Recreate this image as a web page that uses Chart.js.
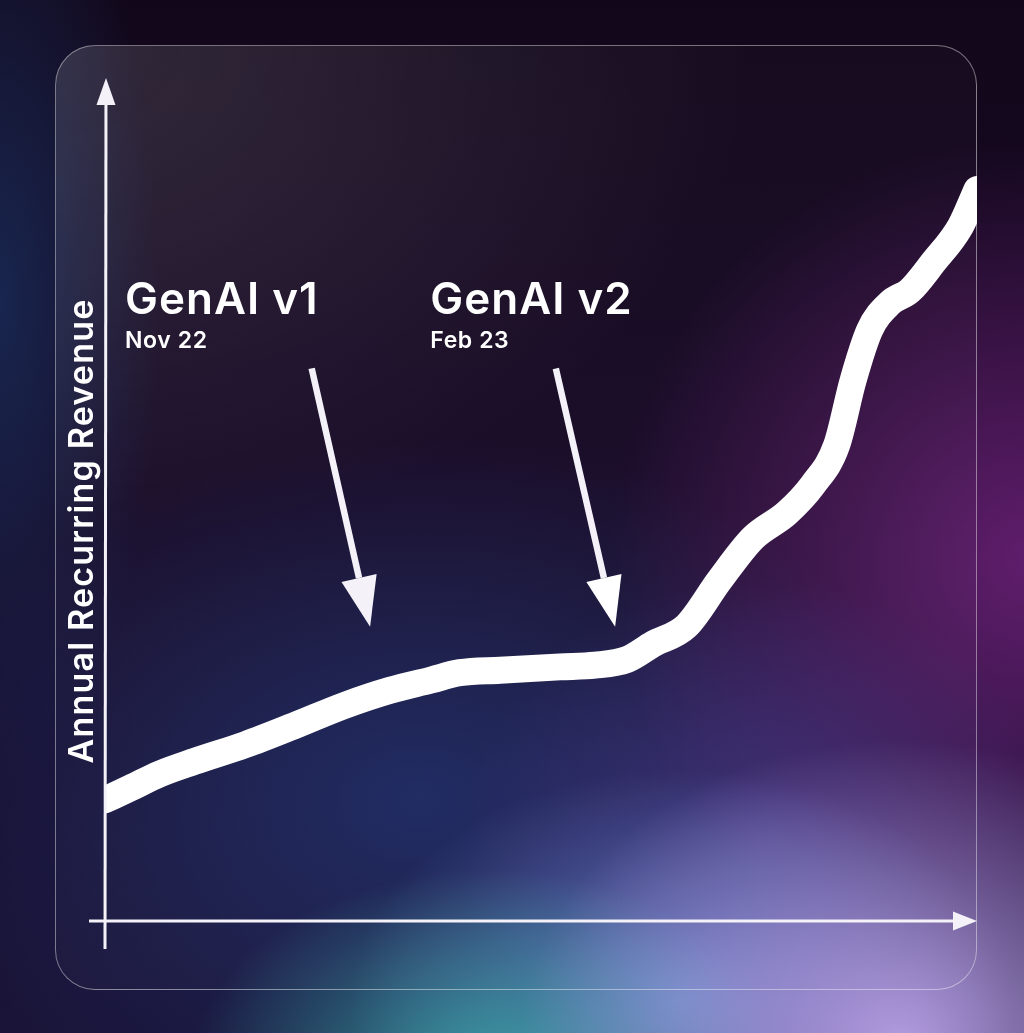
<!DOCTYPE html>
<html>
<head>
<meta charset="utf-8">
<script src="https://cdn.jsdelivr.net/npm/chart.js@4.4.0/dist/chart.umd.min.js"></script>
<style>
  html, body { margin: 0; padding: 0; }
  body {
    width: 1024px; height: 1033px; position: relative; overflow: hidden;
    background:
      radial-gradient(ellipse 380px 300px at 900px 1040px, rgba(185,160,230,0.95), rgba(185,160,230,0) 100%),
      radial-gradient(ellipse 300px 200px at 490px 1070px, rgba(60,170,170,0.85), rgba(60,170,170,0) 100%),
      radial-gradient(ellipse 330px 230px at 680px 1000px, rgba(105,135,210,0.85), rgba(105,135,210,0) 100%),
      radial-gradient(ellipse 300px 260px at 760px 840px, rgba(80,60,150,0.6), rgba(80,60,150,0) 100%),
      radial-gradient(ellipse 420px 420px at 1030px 560px, rgba(120,35,130,0.75), rgba(120,35,130,0) 100%),
      radial-gradient(ellipse 520px 360px at 420px 800px, rgba(30,45,105,0.85), rgba(30,45,105,0) 100%),
      radial-gradient(ellipse 160px 500px at 0px 300px, rgba(25,45,90,0.8), rgba(25,45,90,0) 100%),
      linear-gradient(180deg, #12071a 0%, #170a26 45%, #1a1438 100%);
  }
  #card {
    position: absolute; left: 55px; top: 45px; width: 920px; height: 943px;
    border: 1.5px solid rgba(255,255,255,0.42); border-radius: 40px;
    background:
      radial-gradient(ellipse 700px 500px at 0px 0px, rgba(255,255,255,0.12), rgba(255,255,255,0) 100%),
      rgba(255,255,255,0.02);
  }
  canvas { position: absolute; left: 0; top: 0; }
</style>
</head>
<body>
<div id="card"></div>
<canvas id="arrChart" width="1024" height="1033"></canvas>
<script>
// time index (0 = start, 100 = today) and ARR index
const timeIdx = [0, 2.9, 6.3, 10.3, 16.1, 21.8, 27.5, 32.7, 37.3, 40.7, 45.3, 52.2, 56.2, 59.9,
  62.8, 66.7, 70.5, 74.3, 78.2, 81.2, 83.9, 85.8, 87.7, 90.0, 92.3, 95.0, 98.1, 100];
const arrValues = [14.5, 15.9, 17.6, 19.1, 21.1, 23.4, 25.8, 27.6, 28.8, 29.7, 30.0, 30.4, 30.6, 31.3,
  33.1, 35.3, 40.8, 45.8, 48.8, 52.2, 56.9, 64.7, 70.7, 73.9, 75.4, 78.8, 83.1, 87.5];

// launch annotations
const eventTitles = ["GenAI v1", "GenAI v2"];
const eventDates = ["Nov 22", "Feb 23"];
const eventTextX = [2.3, 37.3];
const eventArrowFromX = [23.7, 51.7];
const eventArrowToX = [30.4, 58.5];
const eventArrowFromY = 66.1;
const eventArrowToY = 35.2;
const eventTitleY = 72.6;
const eventDateY = 68.6;

const axisTitle = "Annual Recurring Revenue";

function arrow(ctx, x1, y1, x2, y2, width, headLen, headW) {
  const ang = Math.atan2(y2 - y1, x2 - x1);
  const bx = x2 - headLen * Math.cos(ang);
  const by = y2 - headLen * Math.sin(ang);
  ctx.beginPath();
  ctx.lineWidth = width;
  ctx.moveTo(x1, y1);
  ctx.lineTo(bx, by);
  ctx.stroke();
  ctx.beginPath();
  ctx.moveTo(x2, y2);
  ctx.lineTo(bx + headW / 2 * Math.sin(ang), by - headW / 2 * Math.cos(ang));
  ctx.lineTo(bx - headW / 2 * Math.sin(ang), by + headW / 2 * Math.cos(ang));
  ctx.closePath();
  ctx.fill();
}

// axes with arrow heads + labels
const decorations = {
  id: "decorations",
  afterDatasetsDraw(chart) {
    const { ctx, scales: { x, y } } = chart;
    const x0 = x.getPixelForValue(0);
    const y0 = y.getPixelForValue(0);
    ctx.save();
    ctx.strokeStyle = "#f4f2f8";
    ctx.fillStyle = "#f4f2f8";
    ctx.lineCap = "butt";
    // y axis
    arrow(ctx, x0, y0 + 28, x0 + 1, y.top - 7, 3, 27, 19);
    // x axis
    arrow(ctx, x0 - 16, y0, x.right, y0, 3, 24, 19);

    // launch arrows
    for (let i = 0; i < eventTitles.length; i++) {
      arrow(ctx,
        x.getPixelForValue(eventArrowFromX[i]), y.getPixelForValue(eventArrowFromY),
        x.getPixelForValue(eventArrowToX[i]), y.getPixelForValue(eventArrowToY),
        6.5, 50, 36);
      ctx.fillStyle = "#ffffff";
      ctx.textAlign = "left";
      ctx.textBaseline = "alphabetic";
      ctx.font = "600 44px Inter";
      ctx.letterSpacing = "1px";
      ctx.fillText(eventTitles[i], x.getPixelForValue(eventTextX[i]), y.getPixelForValue(eventTitleY));
      ctx.font = "600 23px Inter";
      ctx.letterSpacing = "0.6px";
      ctx.fillText(eventDates[i], x.getPixelForValue(eventTextX[i]), y.getPixelForValue(eventDateY));
    }

    // y axis title
    ctx.translate(x0 - 22, (y.top + y0) / 2 + 28);
    ctx.rotate(-Math.PI / 2);
    ctx.textAlign = "center";
    ctx.textBaseline = "middle";
    ctx.font = "600 34px Inter";
    ctx.letterSpacing = "1.2px";
    ctx.fillText(axisTitle, 0, 0);
    ctx.restore();
  }
};

new Chart(document.getElementById("arrChart"), {
  type: "line",
  data: {
    labels: timeIdx,
    datasets: [{
      data: timeIdx.map((t, i) => ({ x: t, y: arrValues[i] })),
      borderColor: "#ffffff",
      borderWidth: 27,
      borderCapStyle: "round",
      borderJoinStyle: "round",
      pointRadius: 0,
      cubicInterpolationMode: "monotone",
      fill: false,
      clip: 0
    }]
  },
  options: {
    responsive: false,
    maintainAspectRatio: false,
    animation: false,
    layout: { padding: { left: 105, right: 47, top: 85, bottom: 112 } },
    plugins: { legend: { display: false }, tooltip: { enabled: false } },
    scales: {
      x: { type: "linear", min: 0, max: 100, display: false },
      y: { type: "linear", min: 0, max: 100, display: false }
    }
  },
  plugins: [decorations]
});
</script>
</body>
</html>
